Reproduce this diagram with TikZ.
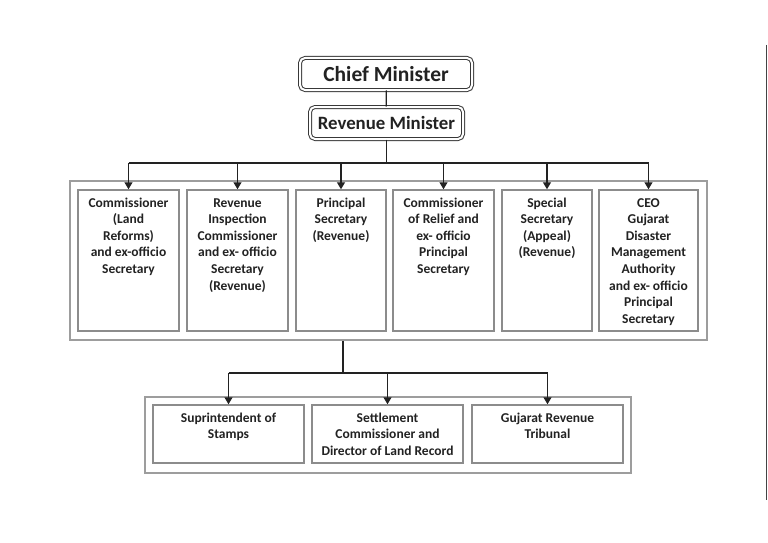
\documentclass[tikz,border=0pt]{standalone}
\usepackage{fontspec}
\setmainfont{Carlito}
\usetikzlibrary{arrows.meta}
\definecolor{ink}{HTML}{222222}
\definecolor{framec}{HTML}{8C8C8C}
\newcommand\orgtext[3]{\parbox[c][#2][t]{#1}{\centering\fontsize{13.5}{16.6}\selectfont\rule{0pt}{17pt}#3\par}}
\tikzset{
  orgbox/.style={draw=framec, line width=1.5pt, inner sep=0pt, text=ink, font=\bfseries},
  groupbox/.style={draw=framec!85, line width=1.5pt, inner sep=0pt},
  minbox/.style={draw=ink!90, double=white, double distance=2pt, line width=1pt, rounded corners=5pt, inner sep=0pt, text=ink, font=\bfseries},
  link/.style={draw=ink, line width=1.2pt},
  arr/.style={link, -{Triangle[width=8pt,length=7pt]}}
}
\begin{document}
\begin{tikzpicture}[x=1pt,y=-1pt]
\useasboundingbox[fill=white] (0,0) rectangle (768,543);
% ministers
\node[minbox, minimum width=172pt, minimum height=32pt, font=\bfseries\fontsize{21.5}{24}\selectfont] (cm) at (386,74) {Chief Minister};
\node[minbox, minimum width=153pt, minimum height=32pt, font=\bfseries\fontsize{18.8}{22}\selectfont] (rm) at (386.5,123) {Revenue Minister};
\draw[link] (cm) -- (rm);
% first group
\node[groupbox, minimum width=637pt, minimum height=159pt] (g1) at (388.5,260.5) {};
\node[orgbox] (b1) at (128.5,260.5) {\orgtext{101pt}{141pt}{Commissioner\\(Land\\Reforms)\\and ex-officio\\Secretary}};
\node[orgbox] (b2) at (237.5,260.5) {\orgtext{101pt}{141pt}{Revenue\\Inspection\\Commissioner\\and ex- officio\\Secretary\\(Revenue)}};
\node[orgbox] (b3) at (341,260.5) {\orgtext{90pt}{141pt}{Principal\\Secretary\\(Revenue)}};
\node[orgbox] (b4) at (443.5,260.5) {\orgtext{101pt}{141pt}{Commissioner\\of Relief and\\ex- officio\\Principal\\Secretary}};
\node[orgbox] (b5) at (547,260.5) {\orgtext{90pt}{141pt}{Special\\Secretary\\(Appeal)\\(Revenue)}};
\node[orgbox] (b6) at (648.5,260.5) {\orgtext{99pt}{141pt}{CEO\\Gujarat\\Disaster\\Management\\Authority\\and ex- officio\\Principal\\Secretary}};
\coordinate (bus) at (386.5,163);
\draw[link] (rm.south) -- (bus);
\draw[link] (b1.north |- bus) -- (b6.north |- bus);
\foreach \b in {b1,b2,b3,b4,b5,b6} \draw[arr] (\b.north |- bus) -- (\b.north);
% second group
\node[groupbox, minimum width=486pt, minimum height=76pt] (g2) at (388,435) {};
\node[orgbox] (s1) at (228.5,434) {\orgtext{151pt}{58pt}{Suprintendent of\\Stamps}};
\node[orgbox] (s2) at (387.5,434) {\orgtext{151pt}{58pt}{Settlement\\Commissioner and\\Director of Land Record}};
\node[orgbox] (s3) at (547.5,434) {\orgtext{151pt}{58pt}{Gujarat Revenue\\Tribunal}};
\coordinate (bus2) at (343,373);
\draw[link] (bus2 |- g1.south) -- (bus2);
\draw[link] (s1.north |- bus2) -- (s3.north |- bus2);
\foreach \b in {s1,s2,s3} \draw[arr] (\b.north |- bus2) -- (\b.north);
% right edge line
\draw[draw=ink!85, line width=1.5pt] (766.5,45) -- (766.5,500);
\end{tikzpicture}
\end{document}
